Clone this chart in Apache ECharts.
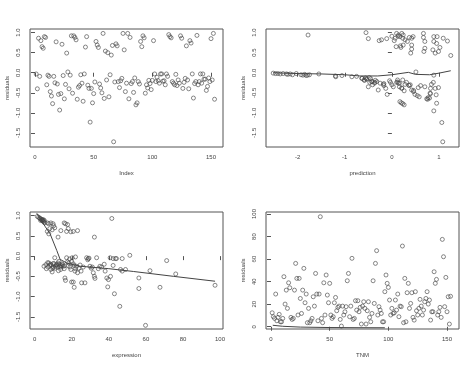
<!DOCTYPE html>
<html>
<head>
<meta charset="utf-8">
<script src="https://cdn.jsdelivr.net/npm/echarts@6/dist/echarts.min.js"></script>
<style>
  html, body { margin: 0; padding: 0; background: #fff; }
  #chart { width: 474px; height: 367px; }
</style>
</head>
<body>
<div id="chart"></div>
<script>
// residuals vs index (top left)
const residuals = [
  -0.03,-0.40,0.86,-0.09,0.80,0.65,0.61,0.90,0.88,-0.30,
  -0.06,-0.09,-0.47,-0.58,-0.77,-0.09,-0.25,0.77,-0.28,-0.54,
  -0.93,-0.52,0.71,-0.07,-0.65,-0.29,0.49,0.02,-0.40,-0.06,
  0.92,-0.51,0.92,0.88,0.82,-0.66,-0.36,-0.32,-0.05,-0.26,
  -0.71,-0.03,0.64,0.90,-0.31,-0.39,-1.23,-0.39,-0.75,-0.52,
  -0.23,0.78,0.69,0.63,-0.28,-0.38,-0.50,0.98,-0.64,0.54,
  -0.18,0.50,-0.60,-0.05,0.44,0.68,-1.72,-0.23,0.72,0.67,
  -0.22,-0.37,-0.20,-0.14,0.98,0.57,-0.47,-0.26,0.98,-0.65,
  0.88,-0.27,-0.22,-0.49,-0.13,-0.80,-0.75,-0.22,-0.28,0.78,
  0.65,0.92,0.87,-0.51,-0.30,-0.38,-0.19,-0.27,-0.42,-0.19,
  0.80,-0.03,-0.22,-0.11,-0.20,-0.26,-0.03,-0.03,-0.21,-0.20,
  -0.30,-0.03,-0.09,0.95,0.90,0.87,-0.22,-0.26,-0.30,-0.04,
  -0.32,-0.18,-0.26,0.92,0.86,-0.39,-0.24,-0.14,0.67,-0.18,
  -0.40,0.80,0.74,-0.03,-0.63,-0.27,-0.22,0.93,-0.30,-0.22,
  -0.03,-0.26,-0.03,-0.16,-0.16,-0.44,-0.34,-0.13,-0.22,0.85,
  -0.18,0.98,-0.66
];

// residuals vs prediction (top right)
const predictionPts = [
  [-2.52,-0.01],[-2.47,-0.02],[-2.42,-0.02],[-2.37,-0.03],[-2.31,-0.02],[-2.24,-0.03],
  [-2.21,-0.04],[-2.16,-0.03],[-2.11,-0.05],[-2.03,-0.02],[-1.93,-0.05],[-1.89,-0.06],
  [-1.85,-0.04],[-1.82,-0.07],[-1.79,-0.06],[-1.75,-0.05],[-1.55,-0.03],[-1.20,-0.08],
  [-1.19,-0.10],[-1.06,-0.07],[-0.85,-0.10],[-0.75,-0.09],[-0.63,-0.14],[-0.58,-0.19],
  [-0.53,-0.16],[-1.78,0.94],
  [-0.55,1.00],[-0.50,0.85],[-0.27,0.80],[-0.22,0.82],[-0.11,0.85],[0.00,0.91],
  [0.07,0.86],[0.10,0.98],[0.14,0.94],[0.17,0.90],[0.21,0.98],[0.23,0.86],[0.24,0.94],
  [0.28,0.82],[0.33,0.78],[0.37,0.88],[0.42,0.86],[0.45,0.90],[0.09,0.65],[0.19,0.63],
  [0.24,0.69],[0.42,0.69],[0.42,0.59],[0.40,0.49],[0.67,0.98],[0.67,0.88],[0.70,0.78],
  [0.70,0.61],[0.68,0.53],[0.89,0.90],[0.96,0.90],[0.89,0.78],[0.95,0.73],[1.02,0.63],
  [0.99,0.53],[0.92,0.49],[0.87,0.57],[1.09,0.86],[1.18,0.79],[1.25,0.43],[0.13,0.91],
  [0.18,0.67],[0.05,0.80],
  [-0.64,-0.14],[-0.59,-0.18],[-0.54,-0.15],[-0.48,-0.12],[-0.45,-0.15],[-0.50,-0.35],
  [-0.41,-0.30],[-0.36,-0.24],[-0.32,-0.22],[-0.29,-0.43],[-0.18,-0.29],[-0.17,-0.32],
  [-0.13,-0.39],[-0.10,-0.54],[-0.05,-0.20],[-0.03,-0.24],[0.00,-0.30],[0.03,-0.35],
  [0.10,-0.24],[0.12,-0.18],[0.14,-0.26],[0.16,-0.35],[0.21,-0.39],[0.23,-0.18],
  [0.26,-0.45],[0.28,-0.29],[0.31,-0.24],[0.37,-0.32],[0.42,-0.43],[0.46,-0.47],
  [0.49,-0.54],[0.54,-0.57],[0.58,-0.60],[0.51,0.02],[0.56,-0.37],[0.61,-0.32],
  [0.70,-0.35],[0.74,-0.65],[0.77,-0.62],[0.81,-0.51],[0.82,-0.39],[0.84,-0.29],
  [0.88,-0.24],[0.89,-0.06],[0.94,-0.55],[0.95,-0.76],[0.89,-0.95],[0.99,-0.37],
  [0.92,-0.39],[1.06,-1.24],[1.08,-1.72],[0.17,-0.72],[0.20,-0.75],[0.23,-0.77],
  [0.26,-0.80],[-0.25,-0.26],[-0.43,-0.22],[-0.17,-0.27],[0.12,-0.23],[0.16,-0.26],
  [0.21,-0.38],[0.39,-0.30],[0.46,-0.44],[0.76,-0.66],[0.80,-0.63],[0.82,-0.52],
  [-0.56,-0.13],[-0.47,-0.24],[-0.42,-0.22],[-0.37,-0.26],[-0.35,-0.19],[0.36,-0.31]
];
const predictionSmooth = [
  [-2.52,0.00],[-2.0,-0.02],[-1.5,-0.03],[-1.0,-0.05],[-0.68,-0.08],[-0.3,-0.08],
  [0.0,-0.05],[0.35,0.01],[0.5,-0.04],[0.8,-0.05],[1.0,-0.01],[1.25,0.05]
];

// residuals vs expression (bottom left)
const expressionPts = [
  [1.4,0.98],[2.1,0.96],[2.9,0.93],[3.6,0.90],[4.0,0.88],[4.5,0.86],[3.2,0.88],[5.0,0.84],
  [4.3,0.89],[2.7,0.94],[5.4,0.82],[3.8,0.91],[4.7,0.90],[5.2,0.88],
  [6.8,0.82],[7.6,0.80],[8.7,0.82],[9.9,0.80],[8.1,0.68],[6.8,0.61],[7.6,0.55],[9.4,0.65],
  [10.8,0.70],[12.6,0.47],[14.1,0.63],[15.9,0.82],[16.6,0.80],[17.7,0.78],[18.1,0.68],
  [17.2,0.61],[19.5,0.60],[20.8,0.61],[23.1,0.63],[32.2,0.47],[41.6,0.93],[10.2,0.75],
  [5.0,-0.25],[6.3,-0.31],[7.2,-0.27],[7.6,-0.17],[8.1,-0.23],[8.7,-0.33],[9.4,-0.39],
  [9.9,-0.27],[10.5,-0.19],[10.8,-0.04],[11.2,-0.25],[11.7,-0.21],[12.3,-0.27],[12.6,-0.17],
  [13.0,-0.13],[13.5,-0.25],[14.1,-0.27],[14.4,-0.23],[14.8,-0.19],[15.3,-0.25],[15.9,-0.31],
  [16.3,-0.54],[16.6,-0.60],[17.2,-0.04],[17.7,-0.14],[18.4,-0.17],[19.0,-0.27],[19.5,-0.33],
  [19.9,-0.13],[20.2,-0.04],[20.8,-0.19],[21.3,-0.23],[21.7,-0.37],[22.0,-0.31],[22.6,-0.25],
  [23.1,-0.41],[19.9,-0.64],[20.8,-0.64],[21.3,-0.77],[25.3,-0.66],[27.1,-0.66],[25.0,-0.37],
  [26.2,-0.27],[28.0,-0.04],[28.6,-0.09],[28.9,-0.06],[29.8,-0.25],[31.1,-0.27],[31.6,-0.41],
  [32.2,-0.50],[32.5,-0.55],[33.4,-0.04],[34.3,-0.31],[35.2,-0.25],[36.1,-0.27],[38.0,-0.37],
  [38.9,-0.54],[39.8,-0.58],[40.7,-0.04],[39.4,-0.76],[42.3,-0.06],[43.6,-0.06],[44.1,-0.06],
  [47.2,-0.06],[42.3,-0.23],[40.9,-0.50],[43.0,-0.93],[46.3,-0.33],[47.2,-0.37],[49.0,-0.33],
  [51.3,0.02],[45.9,-1.24],[56.2,-0.54],[56.2,-0.80],[59.8,-1.71],[62.2,-0.36],[67.6,-0.77],
  [71.2,-0.11],[76.1,-0.44],[97.3,-0.72],
  [6.0,-0.21],[7.0,-0.16],[8.4,-0.20],[9.0,-0.22],[10.0,-0.18],[11.0,-0.30],[12.0,-0.22],
  [13.2,-0.20],[14.0,-0.33],[15.0,-0.21],[16.0,-0.24],[12.8,-0.36],[9.7,-0.30],[18.0,-0.24],
  [23.8,-0.30],[24.5,-0.22],[29.3,-0.05],[30.5,-0.30],[37.5,-0.20],[22.0,-0.02],[18.8,-0.07]
];
const expressionSmooth = [
  [1.1,1.06],[3,0.93],[5.5,0.74],[8.3,0.55],[10.5,0.30],[11.9,0.14],[13.7,-0.08],
  [17.3,-0.17],[24.5,-0.25],[40,-0.31],[53.4,-0.38],[75,-0.50],[97.3,-0.62]
];

// TNM vs index (bottom right)
const tnm = [
  12.4,8.9,7.4,29,5.3,8.3,11,4.4,4.4,7.4,
  44.4,20.1,32.5,16.3,39,34.6,8.3,6.5,7.4,32.5,
  56.2,42.9,10.4,42.9,25.1,11.8,32.5,51.8,21.3,29,
  3.6,16.3,3.6,5.3,7.4,26.6,18.3,47.3,29,5.3,
  29,97.6,7.4,3.6,39,10.4,45.9,28.1,21.3,38.5,
  10.4,7.4,8.9,21.3,26,14.2,17.2,18.3,6.5,0.6,
  18.3,10.4,13.3,17.8,40.8,47.3,8.9,18.3,60.7,6.5,
  7.4,23.1,14.8,23.1,13.3,17.2,2.4,18.3,22.2,16.3,
  2.4,14.2,22.2,8.3,4.4,11.8,40.8,20.7,56.2,67.5,
  10.4,17.8,14.8,11.8,4.4,4.4,31.1,45.9,38.5,34.9,
  23.7,10.4,16.3,11.8,12.4,23.7,14.8,29,8.9,18.3,
  17.8,71.6,3.6,42.9,4.4,30.2,38.5,16.3,20.7,30.2,
  8.3,5.9,31.1,14.2,10.4,16.3,24.3,18.3,10.4,14.8,
  22.2,25.1,31.1,20.1,23.7,5.9,13.3,13.3,48.8,38.5,
  42,10.4,13.3,17.2,8.3,77.5,62.1,17.8,43.8,13.3,
  26.6,2.4,27
];
const tnmSmooth = [[1.5,1.3],[10,0.4],[25,-0.3],[50,-0.7],[75,-0.85],[97,-0.9]];

const residualTicks = [-1.5, -1.0, -0.5, 0.0, 0.5, 1.0];
const indexTicks = [0, 50, 100, 150];
const predictionTicks = [-2, -1, 0, 1];
const expressionTicks = [0, 20, 40, 60, 80, 100];
const tnmTicks = [0, 20, 40, 60, 80, 100];

const chart = echarts.init(document.getElementById('chart'));

const FONT = 'Liberation Sans';
const INK = '#555';
const TEXT = '#444';

const grids = [
  { left: 30, top: 29, width: 193, height: 118 },
  { left: 266, top: 29, width: 193, height: 118 },
  { left: 30, top: 212, width: 193, height: 117 },
  { left: 266, top: 212, width: 193, height: 117 }
].map(g => Object.assign({ show: true, borderColor: INK, borderWidth: 1, backgroundColor: 'transparent' }, g));

function fmt(ticks, v) {
  return ticks.some(t => t % 1 !== 0) ? v.toFixed(1) : String(v);
}

function xAxis(idx, min, max, ticks, name) {
  return {
    type: 'value', gridIndex: idx, min: min, max: max,
    name: name, nameLocation: 'middle', nameGap: 23,
    nameTextStyle: { fontFamily: FONT, fontSize: 6, color: TEXT },
    axisLine: { show: false },
    axisTick: { show: true, length: 4, lineStyle: { color: INK }, customValues: ticks },
    axisLabel: { fontFamily: FONT, fontSize: 6, color: TEXT, margin: 7, customValues: ticks,
      formatter: v => fmt(ticks, v) },
    splitLine: { show: false }
  };
}

function yAxis(idx, min, max, ticks) {
  return {
    type: 'value', gridIndex: idx, min: min, max: max,
    name: 'residuals', nameLocation: 'middle', nameGap: 20,
    nameTextStyle: { fontFamily: FONT, fontSize: 6, color: TEXT },
    axisLine: { show: false },
    axisTick: { show: true, length: 4, lineStyle: { color: INK }, customValues: ticks },
    axisLabel: { fontFamily: FONT, fontSize: 6, color: TEXT, margin: 9, rotate: 90,
      customValues: ticks, formatter: v => fmt(ticks, v) },
    splitLine: { show: false }
  };
}

const pointStyle = { color: 'rgba(0,0,0,0)', borderColor: '#444', borderWidth: 0.8 };

function scatter(idx, data) {
  return {
    type: 'scatter', xAxisIndex: idx, yAxisIndex: idx, data: data,
    symbol: 'circle', symbolSize: 4, itemStyle: pointStyle, silent: true
  };
}
function smooth(idx, data) {
  return {
    type: 'line', xAxisIndex: idx, yAxisIndex: idx, data: data,
    symbol: 'none', lineStyle: { color: '#444', width: 1 }, silent: true
  };
}

const option = {
  animation: false,
  backgroundColor: '#fff',
  grid: grids,
  xAxis: [
    xAxis(0, -4.26, 160.2, indexTicks, 'Index'),
    xAxis(1, -2.673, 1.425, predictionTicks, 'prediction'),
    xAxis(2, -2.55, 101.6, expressionTicks, 'expression'),
    xAxis(3, -4.26, 160.2, indexTicks, 'TNM')
  ],
  yAxis: [
    yAxis(0, -1.85, 1.09, residualTicks),
    yAxis(1, -1.85, 1.09, residualTicks),
    yAxis(2, -1.80, 1.09, residualTicks),
    yAxis(3, -2.0, 101.8, tnmTicks)
  ],
  series: [
    scatter(0, residuals.map((r, i) => [i + 1, r])),
    scatter(1, predictionPts),
    smooth(1, predictionSmooth),
    scatter(2, expressionPts),
    smooth(2, expressionSmooth),
    scatter(3, tnm.map((t, i) => [i + 1, t])),
    smooth(3, tnmSmooth)
  ]
};

chart.setOption(option);
</script>
</body>
</html>
